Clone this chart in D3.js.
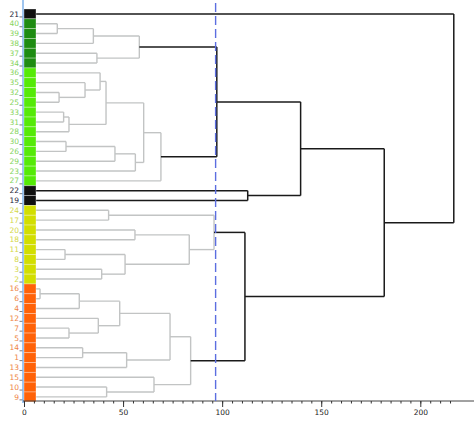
<!DOCTYPE html>
<html>
<head>
<meta charset="utf-8">
<script src="https://cdn.jsdelivr.net/npm/d3@7"></script>
<style>
  html, body { margin: 0; padding: 0; background: #fff; }
  svg { display: block; font-family: "DejaVu Sans", Verdana, sans-serif; }
</style>
</head>
<body>
<svg id="chart" width="474" height="424"></svg>
<script>
// leaves, top to bottom
const leafLabels = ["21", "40", "39", "38", "37", "34", "36", "35", "32", "25",
                    "33", "31", "28", "30", "26", "29", "23", "27", "22", "19",
                    "24", "17", "20", "18", "11", "8", "3", "2", "16", "6",
                    "4", "12", "7", "5", "14", "1", "13", "15", "10", "9"];

const leafGroups = ["k", "dg", "dg", "dg", "dg", "dg", "g", "g", "g", "g",
                    "g", "g", "g", "g", "g", "g", "g", "g", "k", "k",
                    "y", "y", "y", "y", "y", "y", "y", "y", "o", "o",
                    "o", "o", "o", "o", "o", "o", "o", "o", "o", "o"];

// merges: [left, right, height]; "mN" refers to the N-th merge
const merges = [
    ["40", "39", 16.8], ["m0", "38", 35.0], ["37", "34", 36.8], ["m1", "m2", 58.2],
    ["32", "25", 17.7], ["35", "m4", 30.8], ["36", "m5", 38.4], ["33", "31", 20.0],
    ["m7", "28", 22.7], ["m6", "m8", 41.4], ["30", "26", 21.2], ["m10", "29", 45.9],
    ["m11", "23", 56.2], ["m9", "m12", 60.4], ["m13", "27", 69.1], ["m3", "m14", 97.3],
    ["22", "19", 112.9], ["m15", "m16", 139.6], ["24", "17", 42.7], ["20", "18", 56.0],
    ["11", "8", 20.7], ["3", "2", 39.2], ["m20", "m21", 51.0], ["m19", "m22", 83.4],
    ["m18", "m23", 95.9], ["16", "6", 8.1], ["m25", "4", 27.9], ["7", "5", 22.7],
    ["12", "m27", 37.5], ["m26", "m28", 48.3], ["14", "1", 29.6], ["m30", "13", 51.8],
    ["m29", "m31", 73.7], ["10", "9", 41.7], ["15", "m33", 65.6], ["m32", "m34", 84.1],
    ["m24", "m35", 111.5], ["m17", "m36", 181.8], ["21", "m37", 216.9]
];

const cutHeight = 96.7;
const axisTicks = [0, 50, 100, 150, 200];

const barColor = { k: "#111111", dg: "#1e8c12", g: "#55ea08", y: "#d2de00", o: "#ff6208" };
const labelColor = { k: "#1c1c38", dg: "#86d45c", g: "#86d45c", y: "#d4d848", o: "#ee8444" };

var width = 474,
    height = 424,
    yTop = 9,
    yBottom = 401.8,
    axisY = 401,
    barX0 = 24,
    barX1 = 36;

var svg = d3.select("#chart");

// build the tree
var nodes = {};
leafLabels.forEach(function (l, i) {
    nodes[l] = { name: l, h: 0, group: leafGroups[i] };
});
merges.forEach(function (m, i) {
    nodes["m" + i] = { name: "m" + i, h: m[2], children: [nodes[m[0]], nodes[m[1]]] };
});

var root = d3.hierarchy(nodes["m" + (merges.length - 1)]);
d3.cluster()
    .size([yBottom - yTop, 1])
    .separation(() => 1)(root);

var step = (yBottom - yTop) / leafLabels.length;

const x = d3.scaleLinear()
    .domain([0, 200])
    .range([24, 420.3]);

const yPos = d => yTop + d.x;

// links (grey below the cut, black above)
var links = svg.append("g").attr("fill", "none");
var inner = root.descendants().filter(d => d.children);
inner.sort((a, b) => d3.ascending(a.data.h > cutHeight, b.data.h > cutHeight));

inner.forEach(function (d) {
    var above = d.data.h > cutHeight,
        col = above ? "#1a1a1a" : "#c2c4c4",
        sw = above ? 1.5 : 1.4,
        ys = d.children.map(yPos);

    links.append("line")
        .attr("x1", x(d.data.h)).attr("x2", x(d.data.h))
        .attr("y1", d3.min(ys)).attr("y2", d3.max(ys))
        .attr("stroke", col).attr("stroke-width", sw);

    d.children.forEach(function (c) {
        links.append("line")
            .attr("x1", x(c.data.h)).attr("x2", x(d.data.h))
            .attr("y1", yPos(c)).attr("y2", yPos(c))
            .attr("stroke", col).attr("stroke-width", sw);
    });
});

// colour bar
var leaves = root.leaves();
svg.append("g").selectAll("rect")
    .data(leaves)
    .join("rect")
    .attr("x", barX0)
    .attr("width", barX1 - barX0)
    .attr("y", d => yPos(d) - step / 2)
    .attr("height", step)
    .attr("fill", d => barColor[d.data.group])
    .attr("stroke", "rgba(255,255,255,0.4)")
    .attr("stroke-width", 0.8);

// leaf labels and their little ticks
var labels = svg.append("g");
leaves.forEach(function (d) {
    labels.append("text")
        .attr("x", 19)
        .attr("y", yPos(d))
        .attr("dy", "0.35em")
        .attr("text-anchor", "end")
        .attr("font-size", "7.5px")
        .attr("fill", labelColor[d.data.group])
        .text(d.data.name);
    labels.append("line")
        .attr("x1", 19.5).attr("x2", 23)
        .attr("y1", yPos(d) + 3).attr("y2", yPos(d) + 3)
        .attr("stroke", "#555").attr("stroke-width", 0.8);
});

// left axis line
svg.append("line")
    .attr("x1", 23).attr("x2", 23)
    .attr("y1", 0).attr("y2", axisY + 2)
    .attr("stroke", "#7fb2ea").attr("stroke-width", 1.5);

// bottom axis
var axisG = svg.append("g").attr("transform", "translate(0," + axisY + ")");
axisG.append("line")
    .attr("x1", 23).attr("x2", width)
    .attr("stroke", "#444").attr("stroke-width", 1);

axisG.append("g")
    .call(d3.axisBottom(x).tickValues(d3.range(0, 220, 5)).tickSize(2.5).tickFormat(""))
    .call(g => g.select(".domain").remove())
    .call(g => g.selectAll("line").attr("stroke", "#333"));

axisG.append("g")
    .call(d3.axisBottom(x).tickValues(axisTicks).tickSize(6).tickPadding(3))
    .call(g => g.select(".domain").remove())
    .call(g => g.selectAll("line").attr("stroke", "#333"))
    .call(g => g.selectAll("text")
        .attr("font-family", "DejaVu Sans, Verdana, sans-serif")
        .attr("font-size", "7.5px")
        .attr("fill", "#222"));

// cut line
svg.append("line")
    .attr("x1", x(cutHeight)).attr("x2", x(cutHeight))
    .attr("y1", 3).attr("y2", axisY)
    .attr("stroke", "#5c6ee0")
    .attr("stroke-width", 1.4)
    .attr("stroke-dasharray", "9,4");
</script>
</body>
</html>
